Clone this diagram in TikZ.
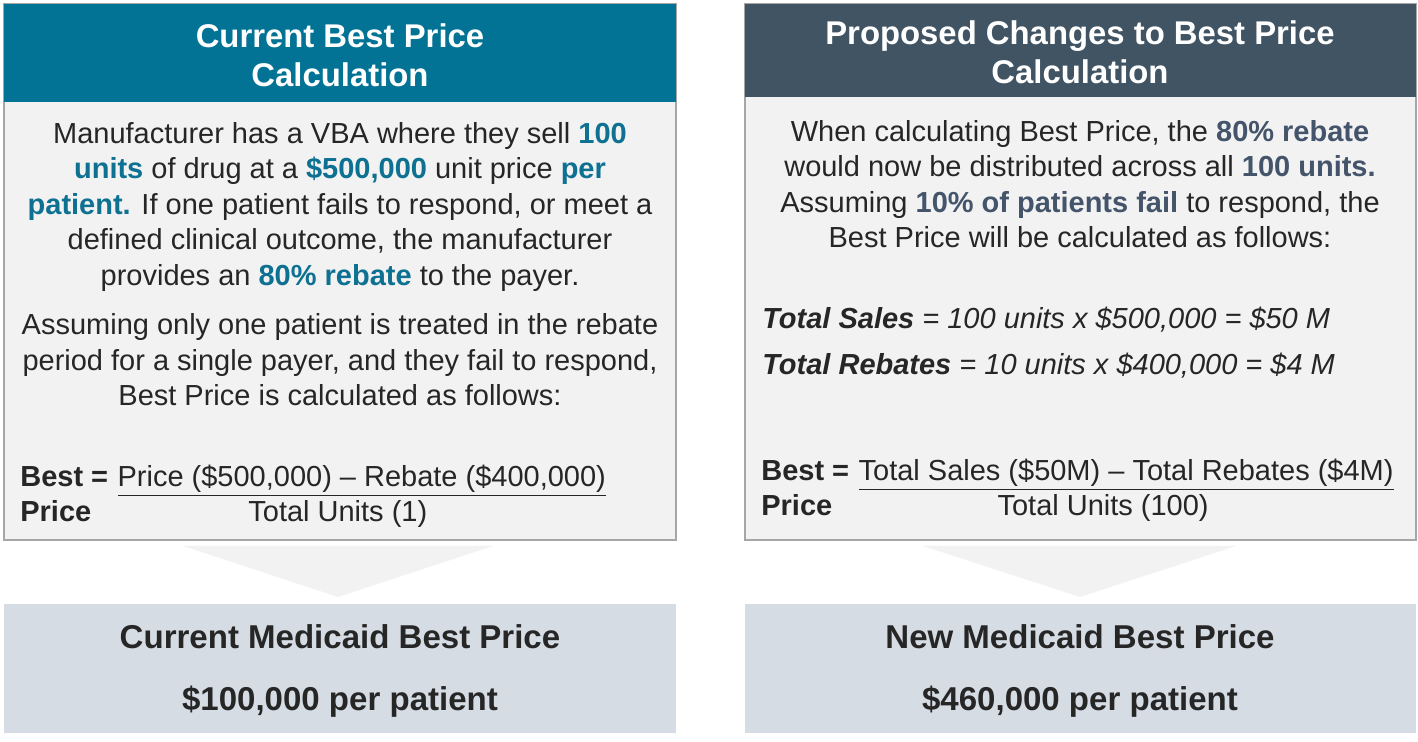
\documentclass[tikz,border=0pt]{standalone}
\usepackage{fontspec}
\setmainfont{Liberation Sans}
\usetikzlibrary{positioning}

\definecolor{hdrteal}{HTML}{027395}
\definecolor{hdrslate}{HTML}{405464}
\definecolor{bodygray}{HTML}{F2F2F2}
\definecolor{framegray}{HTML}{A6A6A6}
\definecolor{resgray}{HTML}{D6DCE4}
\definecolor{txtdark}{HTML}{262626}
\definecolor{hiteal}{HTML}{0E7192}
\definecolor{hislate}{HTML}{44546A}

\newcommand{\hlteal}[1]{{\bfseries\color{hiteal}#1}}
\newcommand{\hlslate}[1]{{\bfseries\color{hislate}#1}}

\begin{document}
\begin{tikzpicture}[x=0.02cm,y=-0.02cm,
	panel/.style={draw=framegray, line width=1.2pt, fill=bodygray},
	hdr/.style={text=white, align=center, font=\fontsize{18.7}{22.3}\selectfont\bfseries},
	body/.style={text=txtdark, align=center, font=\fontsize{16.5}{20.2}\selectfont},
	lbl/.style={text=txtdark, font=\fontsize{16.5}{20.2}\selectfont, inner sep=0pt},
	res/.style={text=txtdark, font=\fontsize{18.8}{22.5}\selectfont\bfseries},
	chev/.style={fill=bodygray}]
	\useasboundingbox (0,0) rectangle (1418,742);

	% left panel
	\draw[panel] (4,4) rectangle (676,540);
	\fill[hdrteal] (4,4) rectangle (676,102);
	\node[hdr] (lhead) at (340,55) {Current Best Price\\Calculation};
	\node[body] (lpara) at (340,207) {Manufacturer has a VBA where they sell \hlteal{100}\\
		\hlteal{units} of drug at a \hlteal{\$500,000} unit price \hlteal{per}\\
		\hlteal{patient.} If one patient fails to respond, or meet a\\
		defined clinical outcome, the manufacturer\\
		provides an \hlteal{80\% rebate} to the payer.};
	\node[body] (lassume) at (340,360) {Assuming only one patient is treated in the rebate\\
		period for a single payer, and they fail to respond,\\
		Best Price is calculated as follows:};
	\node[lbl, anchor=base west] (lbest) at (20,487) {\bfseries Best =};
	\node[lbl, right=5pt of lbest.base east, anchor=base west] (lnum) {\underline{Price (\$500,000) -- Rebate (\$400,000)}};
	\node[lbl, anchor=base west] (lprice) at (20,522) {\bfseries Price};
	\node[lbl, anchor=base, xshift=-0.48cm] (lden) at (lnum.base |- lprice.base) {Total Units (1)};

	% left result
	\fill[chev] (183,546) -- (493,546) -- (338,597) -- cycle;
	\fill[resgray] (4,604) rectangle (676,733);
	\node[res] (lres) at (340,637) {Current Medicaid Best Price};
	\node[res] (lval) at (340,702) {\$100,000 per patient};

	% right panel
	\draw[panel] (745,4) rectangle (1416,540);
	\fill[hdrslate] (745,4) rectangle (1416,97);
	\node[hdr] (rhead) at (1080,52) {Proposed Changes to Best Price\\Calculation};
	\node[body] (rpara) at (1080,184) {When calculating Best Price, the \hlslate{80\% rebate}\\
		would now be distributed across all \hlslate{100 units.}\\
		Assuming \hlslate{10\% of patients fail} to respond, the\\
		Best Price will be calculated as follows:};
	\node[lbl, anchor=base west] (rsales) at (762,329) {\itshape\textbf{Total Sales} = 100 units x \$500,000 = \$50 M};
	\node[lbl, anchor=base west] (rrebates) at (762,375) {\itshape\textbf{Total Rebates} = 10 units x \$400,000 = \$4 M};
	\node[lbl, anchor=base west] (rbest) at (761,481) {\bfseries Best =};
	\node[lbl, right=5pt of rbest.base east, anchor=base west] (rnum) {\underline{Total Sales (\$50M) -- Total Rebates (\$4M)}};
	\node[lbl, anchor=base west] (rprice) at (761,516) {\bfseries Price};
	\node[lbl, anchor=base, xshift=-0.46cm] (rden) at (rnum.base |- rprice.base) {Total Units (100)};

	% right result
	\fill[chev] (923,546) -- (1236,546) -- (1080,597) -- cycle;
	\fill[resgray] (745,604) rectangle (1416,733);
	\node[res] (rres) at (1080,637) {New Medicaid Best Price};
	\node[res] (rval) at (1080,702) {\$460,000 per patient};
\end{tikzpicture}
\end{document}
